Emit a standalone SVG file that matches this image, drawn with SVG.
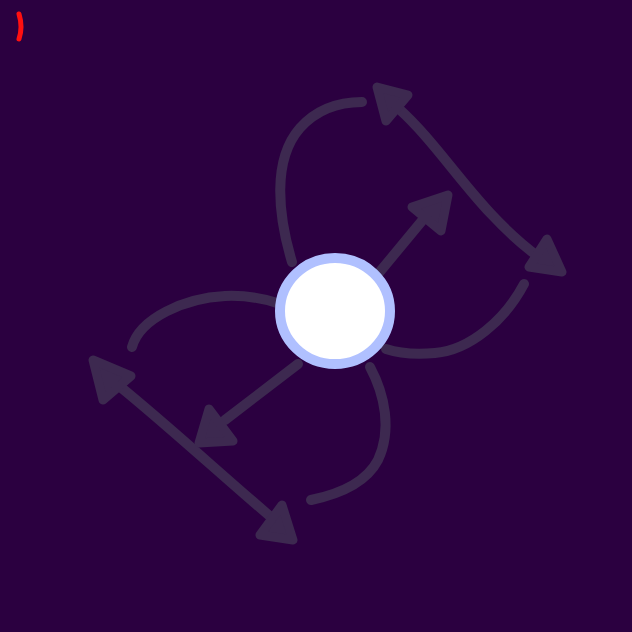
<svg xmlns="http://www.w3.org/2000/svg" width="632" height="632" viewBox="0 0 632 632">
<style>
.c{fill:none;stroke:#3d2950;stroke-width:10;stroke-linecap:round;stroke-linejoin:round}
.h{fill:#3d2950;stroke:#3d2950;stroke-width:9;stroke-linejoin:round}
</style>
<rect width="632" height="632" fill="#2b0040"/>
<path d="M19 14 Q23 27 19 39" fill="none" stroke="#ff1010" stroke-width="5" stroke-linecap="round"/>
<g id="connectors">
<path class="c" d="M292 262 C278 215 272 160 300 128 C318 108 340 102 362 102"/>
<path class="c" d="M398 108 C445 150 475 210 540 258"/>
<polygon class="h" points="377,87 408,95 386,121"/>
<polygon class="h" points="562,272 547,239 529,267"/>
<path class="c" d="M378 274 L426 216"/>
<polygon class="h" points="448,195 412,207 441,231"/>
<path class="c" d="M524 284 C505 320 470 350 435 353 C412 355 395 352 386 349"/>
<path class="c" d="M132 347 C140 318 185 298 225 296 C250 295 268 300 277 303"/>
<path class="c" d="M118 385 C165 423 225 478 272 518"/>
<polygon class="h" points="93,360 131,376 103,400"/>
<polygon class="h" points="293,540 282,505 260,535"/>
<path class="c" d="M298 364 L225 420"/>
<polygon class="h" points="199,443 209,409 233,441"/>
<path class="c" d="M370 367 C385 395 392 430 378 460 C365 485 335 495 311 500"/>
</g>
<g id="node">
<ellipse cx="335" cy="311" rx="55" ry="53" fill="#ffffff" stroke="#b0c0ff" stroke-width="10"/>
</g>
</svg>
